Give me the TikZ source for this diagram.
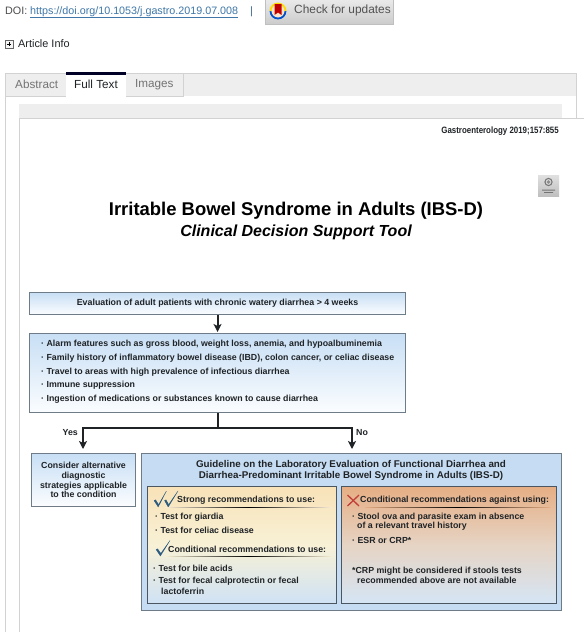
\documentclass[tikz,border=0pt]{standalone}
\usepackage{fontspec}
\setmainfont{Liberation Sans}
\usetikzlibrary{arrows.meta}
\definecolor{ink}{HTML}{1F2326}
\definecolor{edge}{HTML}{6E7C88}
\definecolor{edgedark}{HTML}{4C5660}
\definecolor{skyblue}{HTML}{C8DFF5}
\definecolor{flatblue}{HTML}{C6DCF2}
\definecolor{tabgrey}{HTML}{EEEEEE}
\definecolor{tabline}{HTML}{D2D2D2}
\definecolor{linkblue}{HTML}{3F77A8}
\definecolor{checkblue}{HTML}{2D5C80}
\definecolor{crossred}{HTML}{C2403A}
\definecolor{paleorange}{HTML}{F8E2B8}
\definecolor{cream}{HTML}{F8F1D6}
\definecolor{bottomblue}{HTML}{CFE2F5}
\definecolor{terracotta}{HTML}{E6AE84}
\definecolor{sand}{HTML}{E6D4C4}
\definecolor{bottomblue2}{HTML}{D5E5F5}
\tikzset{
  gradbox/.style={draw=edge,line width=1.1pt,top color=skyblue,bottom color=white!93!skyblue,inner sep=0pt,anchor=north west},
  body/.style={font=\fontsize{8.8}{10}\selectfont\bfseries,text=ink,inner sep=0pt,anchor=west},
  listing/.style={font=\fontsize{8.8}{13.8}\selectfont\bfseries,text=ink,inner sep=0pt,align=left,anchor=north west},
  flowline/.style={draw=ink,line width=1.9pt},
  flowarrow/.style={draw=ink,line width=1.9pt,-{Stealth[length=8pt,width=8pt,inset=2pt]}},
  webtext/.style={font=\fontsize{11.7}{13}\selectfont,inner sep=0pt,anchor=west},
  rowtext/.style={font=\fontsize{10.75}{12}\selectfont,inner sep=0pt,anchor=base west},
  tick/.style={fill=checkblue,draw=checkblue,line width=0.25pt,line join=round},
}
\begin{document}
\begin{tikzpicture}[x=1pt,y=-1pt]
\useasboundingbox (0,0) rectangle (584,632);
\clip (0,0) rectangle (584,632);
% page furniture
\fill[white] (0,0) rectangle (584,632);
\fill[tabgrey] (5,73) rectangle (576,96);
\draw[tabline,line width=0.8pt] (5,632) -- (5,73) -- (576,73) -- (576,632);
\draw[tabline,line width=0.8pt] (5,96) -- (66,96) (126,96) -- (183,96) -- (183,73);
\fill[white] (66,73) rectangle (126,97);
\fill[tabgrey] (19,104) rectangle (562,118);
\fill[white] (19,118) rectangle (584,632);
\draw[tabline,line width=0.8pt] (19,632) -- (19,118) -- (584,118);
\fill[black!85!blue] (66,72) rectangle (126,74.5);
\node[webtext,text=black!55] (tabA) at (15,84.5) {Abstract};
\node[webtext,text=ink] (tabF) at (74,84.5) {Full Text};
\node[webtext,text=black!55] (tabI) at (135,84.5) {Images};
% DOI line
\node[rowtext,text=black!70] (doi) at (5,14) {DOI:};
\node[rowtext,text=linkblue] (url) at (30,14) {\underline{https://doi.org/10.1053/j.gastro.2019.07.008}};
\node[rowtext,text=linkblue!80!black] (bar) at (250,14) {|};
\shade[top color=black!8,bottom color=black!20] (265,-1) rectangle (393,24);
\draw[black!25,line width=0.5pt] (265,-1) -- (265,24) -- (393,24) -- (393,-1);
\fill[orange!20!white] (278,11) circle (8);
\draw[line width=1.8pt,color=blue!60!cyan!80!black] (270.5,11) arc[start angle=180,end angle=0,radius=7.5];
\draw[line width=1.8pt,color=yellow!80!orange] (270.5,11) arc[start angle=180,end angle=360,radius=7.5];
\fill[red!75!black] (274.5,4) -- (281.5,4) -- (281.5,15) -- (278,12.5) -- (274.5,15) -- cycle;
\node[webtext,text=black!68,font=\fontsize{11.9}{13}\selectfont] (upd) at (294,10.5) {Check for updates};
% article info
\draw[black!60,line width=0.6pt,fill=black!4] (5,40) rectangle (13,48);
\draw[black,line width=0.6pt] (6.8,44) -- (11.2,44) (9,41.8) -- (9,46.2);
\node[webtext,text=ink,font=\fontsize{10.9}{12}\selectfont] (info) at (18,44) {Article Info};
% journal header
\node[inner sep=0pt,anchor=east,text=ink,font=\fontsize{9.2}{10}\selectfont\bfseries] (journal) at (559,131) {\addfontfeatures{FakeStretch=0.86}Gastroenterology 2019;157:855};
\shade[top color=black!12,bottom color=black!25] (538,175) rectangle (559,196);
\draw[black!55,line width=1pt] (548.5,182) circle (3.6);
\fill[black!45] (548.5,182) circle (1.8);
\fill[black!55] (542,189.5) rectangle (555,190.5) (544,192) rectangle (553,192.8);
% titles
\node[inner sep=0pt,text=black,font=\fontsize{18.45}{20}\selectfont\bfseries] (title) at (296,211) {Irritable Bowel Syndrome in Adults (IBS-D)};
\node[inner sep=0pt,text=black,font=\fontsize{16}{18}\selectfont\bfseries\itshape] (subtitle) at (296,232.5) {Clinical Decision Support Tool};
% flow boxes
\node[gradbox,minimum width=376pt,minimum height=22pt,font=\fontsize{8.83}{10}\selectfont\bfseries,text=ink] (eval) at (29,292) {Evaluation of adult patients with chronic watery diarrhea > 4 weeks};
\node[gradbox,minimum width=376pt,minimum height=79pt] (alarm) at (29,333) {};
\node[listing] (alarmtext) at (41,340) {· Alarm features such as gross blood, weight loss, anemia, and hypoalbuminemia\\
· Family history of inflammatory bowel disease (IBD), colon cancer, or celiac disease\\
· Travel to areas with high prevalence of infectious diarrhea\\
· Immune suppression\\
· Ingestion of medications or substances known to cause diarrhea};
\node[gradbox,minimum width=104pt,minimum height=53pt,align=center,font=\fontsize{8.8}{9.8}\selectfont\bfseries,text=ink] (alt) at (31,453) {Consider alternative\\diagnostic\\strategies applicable\\to the condition};
\node[draw=edge,line width=1.1pt,fill=flatblue,inner sep=0pt,anchor=north west,minimum width=420pt,minimum height=157pt] (guide) at (141,453) {};
\node[inner sep=0pt,align=center,text=ink,font=\fontsize{9.8}{11.2}\selectfont\bfseries] (guidetitle) at (351,470.5) {Guideline on the Laboratory Evaluation of Functional Diarrhea and\\Diarrhea-Predominant Irritable Bowel Syndrome in Adults (IBS-D)};
\node[draw=edgedark,line width=1pt,inner sep=0pt,anchor=north west,minimum width=189pt,minimum height=117pt,top color=paleorange,bottom color=bottomblue,middle color=cream] (forbox) at (147,486) {};
\node[draw=edgedark,line width=1pt,inner sep=0pt,anchor=north west,minimum width=215pt,minimum height=117pt,top color=terracotta,bottom color=bottomblue2,middle color=sand] (againstbox) at (341,486) {};
% connectors
\draw[flowarrow,shorten >=1pt] (eval.south) -- (alarm.north);
\coordinate (split) at (alarm.south |- 0,428);
\coordinate (yesend) at (83,449);
\coordinate (noend) at (352,449);
\draw[flowline] (alarm.south) -- (split);
\draw[flowarrow,line join=miter] (split) -| (yesend);
\draw[flowarrow,line join=miter] (split) -| (noend);
\node[body,anchor=east] (yes) at (78,433) {Yes};
\node[body] (no) at (356,433) {No};
% recommendations for
\draw[tick] (154,500.5) -- (155.6,499.8) -- (158.6,504.6) -- (166.4,491) -- (158.2,507) -- cycle;
\draw[tick] (164.5,500.5) -- (166.1,499.8) -- (168.6,504.6) -- (178,491) -- (168.2,507) -- cycle;
\node[body] (strong) at (177,500) {Strong recommendations to use:};
\shade[left color=paleorange!60!white,right color=paleorange!60!white,middle color=black] (165,507) rectangle (332,507.9);
\node[body] (b1) at (155,517) {· Test for giardia};
\node[body] (b2) at (155,530) {· Test for celiac disease};
\draw[tick] (156,549.5) -- (157.6,548.8) -- (160.8,553.4) -- (170,540.5) -- (160.4,556) -- cycle;
\node[body] (cond) at (168,549) {Conditional recommendations to use:};
\shade[left color=cream,right color=cream,middle color=black] (165,556) rectangle (332,556.9);
\node[body] (b3) at (153,568) {· Test for bile acids};
\node[body] (b4) at (153,581) {· Test for fecal calprotectin or fecal};
\node[body] (b5) at (161,591) {lactoferrin};
% recommendations against
\draw[crossred,line width=1.3pt] (347.5,495) -- (359,506) (359,495) -- (347.5,506);
\node[body] (ag) at (360,500) {Conditional recommendations against using:};
\shade[left color=terracotta,right color=terracotta,middle color=black] (365,507) rectangle (550,507.9);
\node[body] (c1) at (352,517) {· Stool ova and parasite exam in absence};
\node[body] (c2) at (357,526.5) {of a relevant travel history};
\node[body] (c3) at (352,540) {· ESR or CRP*};
\node[body] (c4) at (352,571) {*CRP might be considered if stools tests};
\node[body] (c5) at (357,580.5) {recommended above are not available};
\end{tikzpicture}
\end{document}
